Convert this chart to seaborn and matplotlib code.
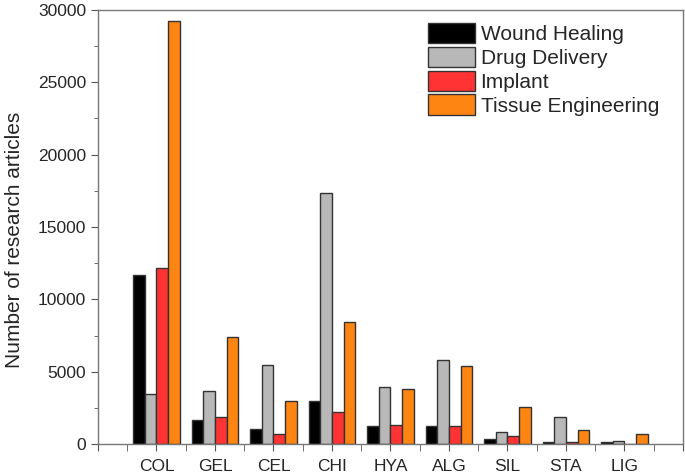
import matplotlib
matplotlib.use("Agg")
import matplotlib.pyplot as plt
import seaborn as sns
import numpy as np
import pandas as pd
from matplotlib.ticker import MultipleLocator

materials = ["COL", "GEL", "CEL", "CHI", "HYA", "ALG", "SIL", "STA", "LIG"]
applications = ["Wound Healing", "Drug Delivery", "Implant", "Tissue Engineering"]

wound_healing = [11700, 1700, 1080, 3000, 1270, 1220, 370, 140, 120]
drug_delivery = [3450, 3640, 5460, 17350, 3940, 5830, 850, 1870, 190]
implant = [12150, 1890, 710, 2210, 1310, 1270, 550, 180, 40]
tissue_eng = [29250, 7420, 2970, 8460, 3830, 5370, 2580, 1010, 710]

colors = ["#000000", "#b8b8b8", "#ff3333", "#ff8512"]

rows = []
for app, vals in zip(applications, [wound_healing, drug_delivery, implant, tissue_eng]):
    for m, v in zip(materials, vals):
        rows.append({"material": m, "application": app, "count": v})
df = pd.DataFrame(rows)

sns.set_style("ticks")
plt.rcParams["font.family"] = ["Liberation Sans", "DejaVu Sans"]

fig = plt.figure(figsize=(6.85, 4.74), dpi=100)
ax = fig.add_axes([0.143, 0.063, 0.854, 0.916])

sns.barplot(data=df, x="material", y="count", hue="application",
            hue_order=applications, order=materials, palette=colors,
            width=0.8, edgecolor="#333333", linewidth=1.0, saturation=1,
            errorbar=None, ax=ax)

ax.set_xlim(-1, 9)
ax.set_ylim(0, 30000)
ax.set_xticks(np.arange(-1, 10))
ax.set_xticklabels([""] + materials + [""])
ax.xaxis.set_minor_locator(MultipleLocator(0.5))
ax.yaxis.set_major_locator(MultipleLocator(5000))
ax.yaxis.set_minor_locator(MultipleLocator(2500))
ax.tick_params(axis="both", which="major", labelsize=12.5, length=5,
               color="#555555", direction="out")
ax.tick_params(axis="x", which="major", pad=6)
ax.tick_params(axis="both", which="minor", length=3, color="#555555",
               direction="out")
ax.tick_params(axis="x", which="minor", length=5)

for s in ax.spines.values():
    s.set_visible(True)
    s.set_color("#777777")
    s.set_linewidth(1.0)

ax.set_xlabel("")
ax.set_ylabel("Number of research articles", fontsize=15)
ax.yaxis.set_label_coords(-0.126, 0.47)

ax.legend(loc="upper left", bbox_to_anchor=(0.564, 0.970), frameon=False,
          fontsize=15, borderpad=0, borderaxespad=0, handlelength=2.25,
          handleheight=1.13, labelspacing=0.12, handletextpad=0.28)

fig.savefig("out.png", dpi=100)
